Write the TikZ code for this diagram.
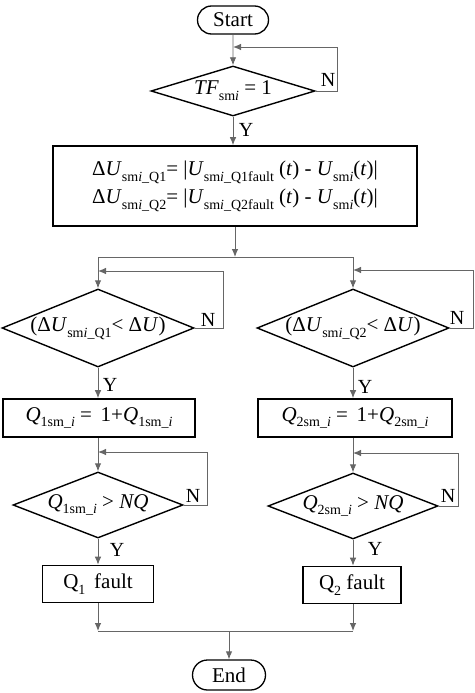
\documentclass[tikz,border=0pt]{standalone}
\usepackage{fontspec}
\setmainfont{Liberation Serif}
\usetikzlibrary{shapes.geometric,shapes.misc,arrows.meta}
\newcommand\sbx[1]{\raisebox{-0.28em}{\fontsize{14}{14}\selectfont #1}}
\begin{document}
\begin{tikzpicture}[x=1pt,y=-1pt,
  every node/.style={font=\fontsize{21}{25}\selectfont, inner sep=0pt},
  term/.style={rounded rectangle, draw=black, line width=1.3pt, minimum height=28pt},
  procbox/.style={rectangle, draw=black, line width=1.6pt},
  decis/.style={diamond, draw=black, line width=1.4pt, inner sep=0pt},
  lab/.style={font=\fontsize{20}{22}\selectfont},
  wire/.style={draw=black!60, line width=0.9pt},
  conn/.style={wire, -{Latex[length=8pt,width=6.5pt]}}]
\useasboundingbox (0,0) rectangle (474,693);

% nodes
\node[term, minimum width=71pt] (start) at (233,20) {Start};
\node[decis, minimum width=164pt, minimum height=50pt, aspect=3.28] (d1) at (233,91)
  {\textit{TF}\sbx{sm\textit{i}} = 1};
\node[procbox, minimum width=364pt, minimum height=80pt, align=center] (box) at (235,186)
  {Δ\textit{U}\sbx{sm\textit{i}\_Q1}= |\textit{U}\sbx{sm\textit{i}\_Q1fault} (\textit{t}) - \textit{U}\sbx{sm\textit{i}}(\textit{t})|\\[3pt]
   Δ\textit{U}\sbx{sm\textit{i}\_Q2}= |\textit{U}\sbx{sm\textit{i}\_Q2fault} (\textit{t}) - \textit{U}\sbx{sm\textit{i}}(\textit{t})|};
\node[decis, minimum width=192pt, minimum height=78pt, aspect=2.46] (d2L) at (98,328)
  {(Δ\textit{U}\sbx{sm\textit{i}\_Q1}< Δ\textit{U})};
\node[decis, minimum width=192pt, minimum height=78pt, aspect=2.46] (d2R) at (353,328)
  {(Δ\textit{U}\sbx{sm\textit{i}\_Q2}< Δ\textit{U})};
\node[procbox, minimum width=192pt, minimum height=38pt] (q1) at (99,418)
  {\textit{Q}\sbx{1sm\_\textit{i}} =\, 1+\textit{Q}\sbx{1sm\_\textit{i}}};
\node[procbox, minimum width=194pt, minimum height=38pt] (q2) at (355,418)
  {\textit{Q}\sbx{2sm\_\textit{i}} =\, 1+\textit{Q}\sbx{2sm\_\textit{i}}};
\node[decis, minimum width=170pt, minimum height=66pt, aspect=2.58] (d3L) at (98,505)
  {\textit{Q}\sbx{1sm\_\textit{i}} > \textit{NQ}};
\node[decis, minimum width=170pt, minimum height=66pt, aspect=2.58] (d3R) at (353,506)
  {\textit{Q}\sbx{2sm\_\textit{i}} > \textit{NQ}};
\node[procbox, minimum width=111pt, minimum height=37pt] (f1) at (98,584) {Q\sbx{1}\, fault};
\node[procbox, minimum width=98pt, minimum height=37pt] (f2) at (352,585) {Q\sbx{2} fault};
\node[term, minimum width=73pt, minimum height=30pt] (end) at (229,675) {End};

% labels
\node[lab] (n0) at (328,80) {N};
\node[lab] (y0) at (246,130) {Y};
\node[lab] (n1) at (208,320) {N};
\node[lab] (y1) at (110,385) {Y};
\node[lab] (n2) at (457,318) {N};
\node[lab] (y2) at (365,387) {Y};
\node[lab] (n3) at (193,496) {N};
\node[lab] (y3) at (117,550) {Y};
\node[lab] (n4) at (448,496) {N};
\node[lab] (y4) at (375,549) {Y};

% junction coordinates
\coordinate (j0) at (233,47);
\coordinate (sp) at (235,257);
\coordinate (spL) at (98,257);
\coordinate (spR) at (353,257);
\coordinate (j1) at (98,271);
\coordinate (j2) at (353,270);
\coordinate (j3) at (98,452);
\coordinate (j4) at (353,453);
\coordinate (m1) at (98,631);
\coordinate (m2) at (353,631);
\coordinate (mc) at (229,631);

% connectors
\draw[conn] (start) -- (d1);
\draw[conn] (d1.east) -- ++(22,0) |- (j0);
\draw[conn] (d1.south) -- (d1.south |- box.north);
\draw[conn] (box.south) -- (sp);
\draw[wire] (spL) -- (spR);
\draw[conn] (spL) -- (d2L.north);
\draw[conn] (spR) -- (d2R.north);
\draw[conn] (d2L.east) -- (223,328) |- (j1);
\draw[conn] (d2R.east) -- (473,328) |- (j2);
\draw[conn] (d2L.south) -- (d2L.south |- q1.north);
\draw[conn] (d2R.south) -- (d2R.south |- q2.north);
\draw[conn] (q1.south -| d3L.north) -- (d3L.north);
\draw[conn] (q2.south -| d3R.north) -- (d3R.north);
\draw[conn] (d3L.east) -- (207,505) |- (j3);
\draw[conn] (d3R.east) -- (458,506) |- (j4);
\draw[conn] (d3L.south) -- (d3L.south |- f1.north);
\draw[conn] (d3R.south) -- (d3R.south |- f2.north);
\draw[conn] (f1.south) -- (m1);
\draw[conn] (f2.south -| m2) -- (m2);
\draw[wire] (m1) -- (m2);
\draw[conn] (mc) -- (end);
\end{tikzpicture}
\end{document}
